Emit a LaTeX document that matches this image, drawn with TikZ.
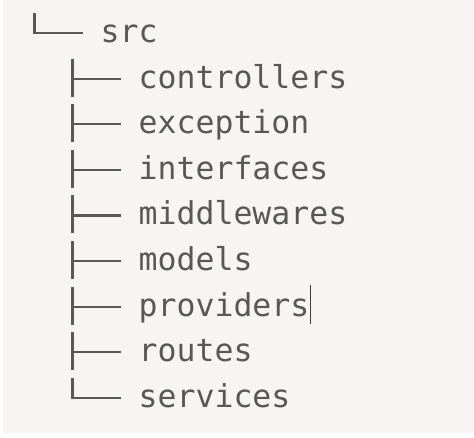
\documentclass[tikz,border=0pt]{standalone}
\usepackage{fontspec}
\setmonofont{DejaVu Sans Mono}
\usetikzlibrary{positioning}

\definecolor{bggray}{RGB}{246,245,243}
\definecolor{treegray}{RGB}{88,88,88}
\definecolor{cursorgray}{RGB}{60,60,60}

\begin{document}
\begin{tikzpicture}[
    x=1pt, y=-1pt,
    node distance=13.2pt,
    dir/.style={
        inner sep=0pt,
        text height=24pt,
        text depth=8pt,
        text=treegray,
        font=\ttfamily\fontsize{31.5}{38}\selectfont
    },
    branch/.style={draw=treegray, line width=2.2pt, line join=miter},
    tee/.pic={
        \draw[branch] (-66pt,21.5pt) -- (-66pt,-16.5pt);
        \draw[branch] (-66pt,1.5pt) -- (-18pt,1.5pt);
    },
    elbow/.pic={
        \draw[branch] (-66pt,21.5pt) |- (-18pt,1.5pt);
    },
    cursor/.style={draw=cursorgray, line width=1.3pt}
]
\useasboundingbox (0,0) rectangle (474,437);
\fill[white] (0,0) rectangle (474,437);
\fill[bggray] (3,0) rectangle (474,433);

\node[dir, anchor=west] (src) at (100.5,34.5) {src};
\node[dir, below=of src.south west, anchor=north west, xshift=38pt] (controllers) {controllers};
\node[dir, below=of controllers.south west, anchor=north west] (exception) {exception};
\node[dir, below=of exception.south west, anchor=north west] (interfaces) {interfaces};
\node[dir, below=of interfaces.south west, anchor=north west] (middlewares) {middlewares};
\node[dir, below=of middlewares.south west, anchor=north west] (models) {models};
\node[dir, below=of models.south west, anchor=north west] (providers) {providers};
\node[dir, below=of providers.south west, anchor=north west] (routes) {routes};
\node[dir, below=of routes.south west, anchor=north west] (services) {services};

\pic at (src.west) {elbow};
\pic at (controllers.west) {tee};
\pic at (exception.west) {tee};
\pic at (interfaces.west) {tee};
\pic at (middlewares.west) {tee};
\pic at (models.west) {tee};
\pic at (providers.west) {tee};
\pic at (routes.west) {tee};
\pic at (services.west) {elbow};

\draw[cursor] ([xshift=1pt,yshift=23pt]providers.east) -- ([xshift=1pt,yshift=-16pt]providers.east);
\end{tikzpicture}
\end{document}
